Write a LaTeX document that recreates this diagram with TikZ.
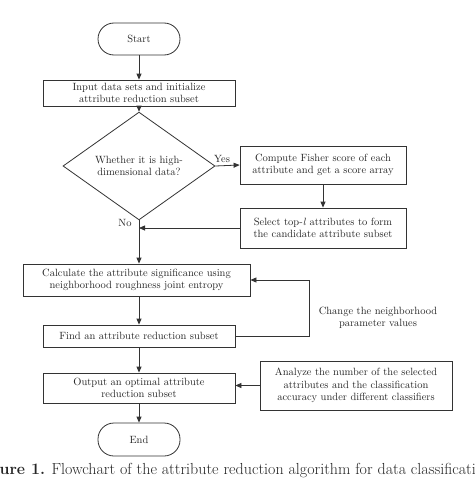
\documentclass[tikz,border=0pt]{standalone}
\usetikzlibrary{arrows.meta,shapes.geometric}
\begin{document}
\begin{tikzpicture}[x=1pt,y=-1pt,
  every node/.style={font=\fontsize{10.5}{12.5}\selectfont, text=black!85, align=center, inner sep=1pt},
  box/.style={draw=black!80, line width=0.8pt, rectangle},
  term/.style={draw=black!80, line width=0.8pt, rectangle, rounded corners=16pt, minimum width=82pt, minimum height=32pt},
  dia/.style={draw=black!80, line width=0.8pt, diamond, minimum width=152pt, minimum height=69pt, inner sep=0pt},
  conn/.style={draw=black!80, line width=0.8pt, -{Triangle[length=6pt,width=5pt]}},
  line/.style={draw=black!80, line width=0.8pt}
]
\useasboundingbox (0,0) rectangle (474,479);
\fill[white] (0,0) rectangle (474,479);

\node[term] (start) at (139,39) {Start};
\node[box, minimum width=192pt, minimum height=26pt] (input) at (139,93) {Input data sets and initialize\\attribute reduction subset};
\node[dia] (dec) at (139,166) {Whether it is high-\\dimensional data?};
\node[box, minimum width=166pt, minimum height=38pt] (fisher) at (323,165) {Compute Fisher score of each\\attribute and get a score array};
\node[box, minimum width=166pt, minimum height=40pt] (select) at (323,228) {Select top-\textit{l} attributes to form\\the candidate attribute subset};
\node[box, minimum width=227pt, minimum height=32pt] (calc) at (136.5,280) {Calculate the attribute significance using\\neighborhood roughness joint entropy};
\node[box, minimum width=192pt, minimum height=22pt] (find) at (139,336) {Find an attribute reduction subset};
\node[box, minimum width=192pt, minimum height=30pt] (output) at (139,388) {Output an optimal attribute\\reduction subset};
\node[box, minimum width=192pt, minimum height=49pt] (analyze) at (356,385.5) {Analyze the number of the selected\\attributes and the classification\\accuracy under different classifiers};
\node[term, minimum height=33pt] (end) at (139,439.5) {End};

\node (yes) at (222,159) {Yes};
\node (no) at (125,223) {No};
\node (chg) at (378,318) {Change the neighborhood\\parameter values};

\coordinate (nojoin) at (139,228);
\coordinate (loopc) at (309,336);

\draw[conn] (start) -- (input);
\draw[conn] (input) -- (dec);
\draw[conn] (dec.east) -- (fisher.west);
\draw[conn] (fisher) -- (select);
\draw[conn] (select.west) -- (nojoin);
\draw[conn] (dec.south) -- (dec.south |- calc.north);
\draw[conn] (calc.south -| find.north) -- (find.north);
\draw[conn] (find.east) -- (loopc) |- (calc.east);
\draw[conn] (find) -- (output);
\draw[conn] (analyze.west) -- (analyze.west -| output.east);
\draw[conn] (output) -- (end);

\node[anchor=base west, inner sep=0pt, font=\fontsize{16}{19}\selectfont] (cap) at (-26,474) {\textbf{Figure 1.} Flowchart of the attribute reduction algorithm for data classification};
\end{tikzpicture}
\end{document}
